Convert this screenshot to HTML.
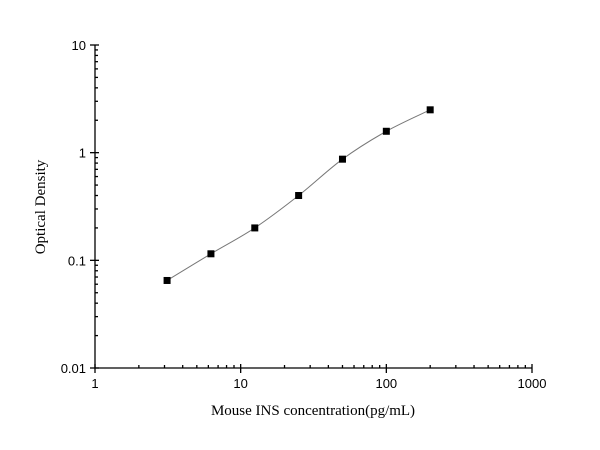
<!DOCTYPE html>
<html><head><meta charset="utf-8"><style>
html,body{margin:0;padding:0;background:#fff;}
svg{display:block;font-family:"Liberation Sans",Arial,sans-serif;}
</style></head><body>
<svg id="chart" width="600" height="450"></svg>
<script>
const concentrations=[3.125,6.25,12.5,25,50,100,200];
const odValues=[0.065,0.115,0.2,0.4,0.87,1.58,2.5];
const xTicks=[1,10,100,1000];
const xTickLabels=["1","10","100","1000"];
const yTicks=[0.01,0.1,1,10];
const yTickLabels=["0.01","0.1","1","10"];
const X0=95,X1=532,Y0=368,Y1=45;
const xs=v=>X0+(Math.log10(v)-0)/3*(X1-X0);
const ys=v=>Y0-(Math.log10(v)+2)/3*(Y0-Y1);
const svg=document.getElementById('chart');
const NS='http://www.w3.org/2000/svg';
function el(t,a,p){const e=document.createElementNS(NS,t);for(const k in a)e.setAttribute(k,a[k]);(p||svg).appendChild(e);return e;}
const axes=el('g',{stroke:'#000','stroke-width':1.3,fill:'none'});


el('line',{x1:X0,y1:Y0,x2:X1,y2:Y0},axes);
el('line',{x1:X0,y1:Y0,x2:X0,y2:Y1},axes);
xTicks.forEach((v,i)=>{
  const x=xs(v);
  el('line',{x1:x,y1:Y0-4,x2:x,y2:Y0+5},axes);
  const t=el('text',{x:x,y:Y0+20,'text-anchor':'middle','font-size':13,fill:'#000'});
  t.textContent=xTickLabels[i];
  
  
  if(i<xTicks.length-1)for(let m=2;m<10;m++){const xm=xs(v*m);el('line',{x1:xm,y1:Y0-3,x2:xm,y2:Y0},axes);}
});
yTicks.forEach((v,i)=>{
  const y=ys(v);
  el('line',{x1:X0-5,y1:y,x2:X0+4,y2:y},axes);
  const t=el('text',{x:X0-9,y:y+5,'text-anchor':'end','font-size':13,fill:'#000'});
  t.textContent=yTickLabels[i];
  
  
  if(i<yTicks.length-1)for(let m=2;m<10;m++){const ym=ys(v*m);el('line',{x1:X0,y1:ym,x2:X0+3,y2:ym},axes);}
});
// smooth curve through points (Catmull-Rom)
const pts=concentrations.map((c,i)=>[xs(c),ys(odValues[i])]);
let d='M'+pts[0][0]+','+pts[0][1];
for(let i=0;i<pts.length-1;i++){
  const p0=pts[Math.max(0,i-1)],p1=pts[i],p2=pts[i+1],p3=pts[Math.min(pts.length-1,i+2)];
  d+=' C'+(p1[0]+(p2[0]-p0[0])/6)+','+(p1[1]+(p2[1]-p0[1])/6)+' '+(p2[0]-(p3[0]-p1[0])/6)+','+(p2[1]-(p3[1]-p1[1])/6)+' '+p2[0]+','+p2[1];
}
const curve=el('path',{d:d,fill:'none',stroke:'#777','stroke-width':1});


pts.forEach(p=>{
  const r=el('rect',{x:p[0]-3.5,y:p[1]-3.5,width:7,height:7,fill:'#000'});
  
  
});
const xt=el('text',{x:313,y:415,'text-anchor':'middle','font-size':15,'font-family':'Liberation Serif,serif',fill:'#000'});
xt.textContent='Mouse INS concentration(pg/mL)';


const yt=el('text',{x:0,y:0,'text-anchor':'middle','font-size':15,'font-family':'Liberation Serif,serif',fill:'#000',transform:'translate(45,207) rotate(-90)'});
yt.textContent='Optical Density';


</script>
</body></html>
